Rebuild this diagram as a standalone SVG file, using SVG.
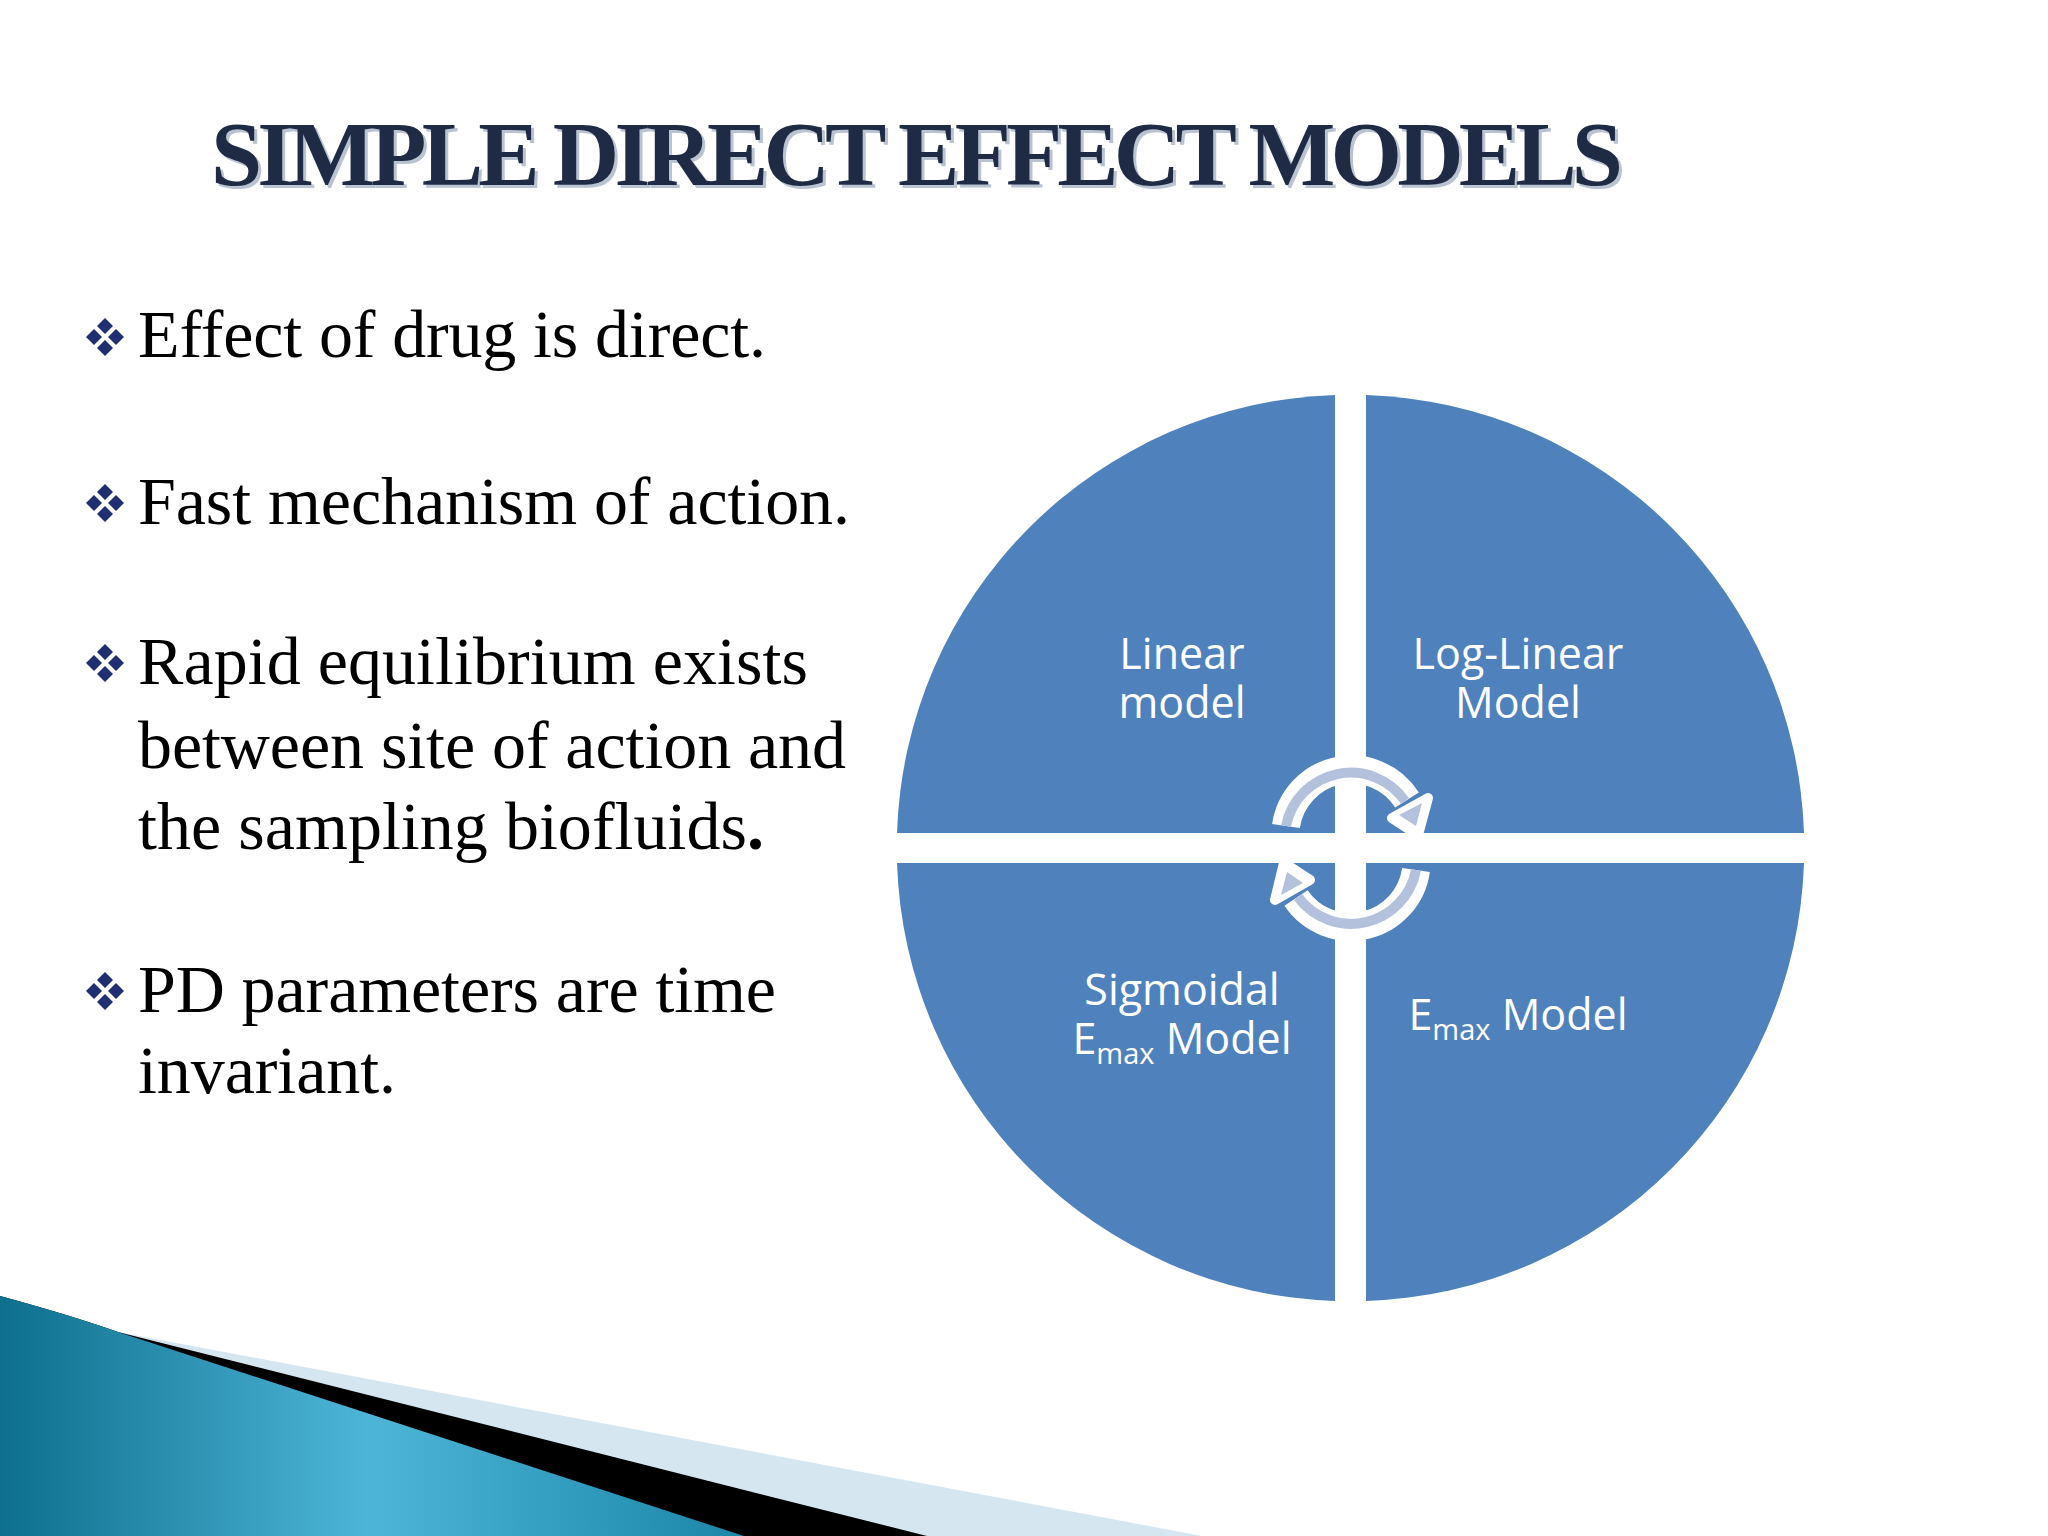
<svg xmlns="http://www.w3.org/2000/svg" width="2048" height="1536" viewBox="0 0 2048 1536">
<defs>
<style>
.b{font-family:"Liberation Serif","Times New Roman",serif;font-size:68px;fill:#000}
.q{font-family:"Open Sans","Noto Sans",sans-serif;font-size:43px;fill:#fff;text-anchor:middle}
.quad{fill:#4F81BD}
.t{font-family:"Liberation Serif",serif;font-size:92px;font-weight:bold}
</style>
<linearGradient id="bl" x1="0" y1="0" x2="1" y2="0">
<stop offset="0" stop-color="#0E6F8E"/><stop offset="0.5" stop-color="#4DB6D8"/><stop offset="1" stop-color="#1B86A8"/>
</linearGradient>
<g id="dia"><path d="M0 -8 L8 0 L0 8 L-8 0Z" fill="#1F2F6F"/></g>
<g id="bul"><use href="#dia" x="0" y="-11"/><use href="#dia" x="-11" y="0"/><use href="#dia" x="11" y="0"/><use href="#dia" x="0" y="11"/></g>
</defs>
<rect width="2048" height="1536" fill="#fff"/>
<g id="deco">
<path d="M0 1296 Q70 1315 118 1332 L1202 1536 L0 1536Z" fill="#D6E6F0"/>
<path d="M0 1296 Q70 1315 118 1332 L927 1536 L0 1536Z" fill="#000"/>
<path d="M0 1296 Q70 1315 118 1332 L744 1536 L0 1536Z" fill="url(#bl)"/>
</g>
<g id="title">
<text class="t" x="214" y="188" fill="#b9c3d2" textLength="1412">SIMPLE DIRECT EFFECT MODELS</text>
<text class="t" x="211" y="185" fill="#1F2A44" textLength="1412">SIMPLE DIRECT EFFECT MODELS</text>
</g>
<g id="bullets">
<use href="#bul" x="105" y="337"/>
<text class="b" x="138" y="357" textLength="628">Effect of drug is direct.</text>
<use href="#bul" x="105" y="503"/>
<text class="b" x="138" y="524" textLength="712">Fast mechanism of action.</text>
<use href="#bul" x="105" y="663"/>
<text class="b" x="138" y="684" textLength="670">Rapid equilibrium exists</text>
<text class="b" x="138" y="768" textLength="708">between site of action and</text>
<text class="b" x="138" y="849" textLength="626">the sampling biofluids<tspan font-weight="bold">.</tspan></text>
<use href="#bul" x="105" y="991"/>
<text class="b" x="138" y="1012" textLength="638">PD parameters are time</text>
<text class="b" x="138" y="1093" textLength="258">invariant.</text>
</g>
<g id="q1"><path class="quad" d="M1335 833 L897 833 A453 453 0 0 1 1335 395Z"/>
<text class="q" x="1182" y="669">Linear</text><text class="q" x="1182" y="718">model</text></g>
<g id="q2"><path class="quad" d="M1366 833 L1804 833 A453 453 0 0 0 1366 395Z"/>
<text class="q" x="1518" y="669">Log-Linear</text><text class="q" x="1518" y="718">Model</text></g>
<g id="q3"><path class="quad" d="M1335 863 L897 863 A453 453 0 0 0 1335 1301Z"/>
<text class="q" x="1182" y="1005">Sigmoidal</text><text class="q" x="1182" y="1054">E<tspan font-size="29" dy="10">max</tspan><tspan dy="-10"> Model</tspan></text></g>
<g id="q4"><path class="quad" d="M1366 863 L1804 863 A453 453 0 0 1 1366 1301Z"/>
<text class="q" x="1518" y="1030">E<tspan font-size="29" dy="10">max</tspan><tspan dy="-10"> Model</tspan></text></g>
<g id="connectors">
<path d="M1286 826 A66 66 0 0 1 1407 800" fill="none" stroke="#fff" stroke-width="28"/>
<polygon points="1428,798 1392,818 1418,835" fill="#fff" stroke="#fff" stroke-width="10" stroke-linejoin="round"/>
<path d="M1286 826 A66 66 0 0 1 1405 801" fill="none" stroke="#B4C1DC" stroke-width="10"/>
<polygon points="1422,803 1399,815 1416,826" fill="#B4C1DC"/>
<path d="M1416 870 A66 66 0 0 1 1296 898" fill="none" stroke="#fff" stroke-width="28"/>
<polygon points="1275,900 1310,880 1284,863" fill="#fff" stroke="#fff" stroke-width="10" stroke-linejoin="round"/>
<path d="M1416 870 A66 66 0 0 1 1298 897" fill="none" stroke="#B4C1DC" stroke-width="10"/>
<polygon points="1281,895 1303,883 1287,872" fill="#B4C1DC"/>
</g>
</svg>
